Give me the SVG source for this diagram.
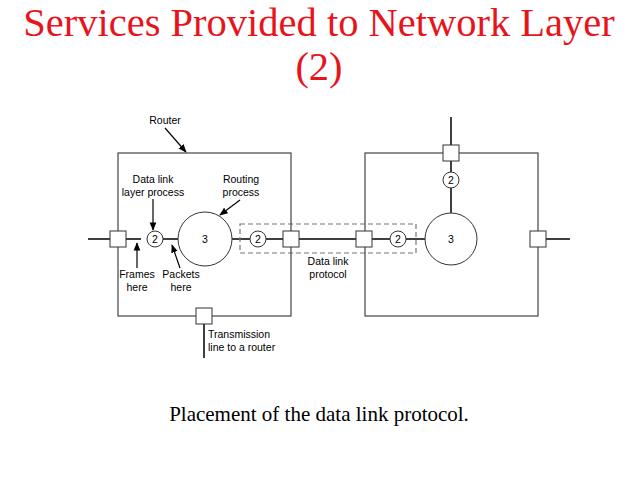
<svg xmlns="http://www.w3.org/2000/svg" width="638" height="478" viewBox="0 0 638 478">
<style>
.t{font-family:"Liberation Serif",serif}
.s{font-family:"Liberation Sans",Arial,sans-serif;font-size:10.5px;fill:#000;text-anchor:middle}
.st{text-anchor:start}
.b{fill:none;stroke:#444;stroke-width:1.2}
.p{fill:#fff;stroke:#333;stroke-width:1}
.l{stroke:#000;stroke-width:1.5;fill:none}
.a{stroke:#000;stroke-width:1.2;fill:none;marker-end:url(#ah)}
</style>
<defs><marker id="ah" viewBox="0 0 10 10" refX="9" refY="5" markerWidth="7" markerHeight="7" orient="auto"><path d="M0,1 L10,5 L0,9 z" fill="#000"/></marker></defs>
<rect width="638" height="478" fill="#fff"/>
<text class="t" x="319" y="36" font-size="40.5" fill="#e8141c" text-anchor="middle">Services Provided to Network Layer</text>
<text class="t" x="319" y="80" font-size="40.5" fill="#e8141c" text-anchor="middle">(2)</text>
<g id="connectors">
<line class="l" x1="88" y1="239" x2="141" y2="239"/>
<line class="l" x1="163" y1="239" x2="178" y2="239"/>
<line class="l" x1="232" y1="239" x2="250" y2="239"/>
<line class="l" x1="266" y1="239" x2="390" y2="239"/>
<line class="l" x1="406" y1="239" x2="425" y2="239"/>
<line class="l" x1="538" y1="239" x2="570" y2="239"/>
<line class="l" x1="451" y1="117" x2="451" y2="213"/>
<line class="l" x1="204" y1="316" x2="204" y2="358"/>
<rect x="240" y="224" width="176" height="29" fill="none" stroke="#777" stroke-width="1.2" stroke-dasharray="5,3"/>
<line class="a" x1="165" y1="128" x2="186" y2="152"/>
<line class="a" x1="153" y1="199" x2="153" y2="230"/>
<line class="a" x1="240" y1="200" x2="220" y2="215"/>
<line class="a" x1="137" y1="268" x2="137" y2="243"/>
<line class="a" x1="180" y1="268" x2="172" y2="245"/>
</g>
<g id="router1"><rect class="b" x="118" y="153" width="173" height="163"/></g>
<g id="router2"><rect class="b" x="365" y="153" width="173" height="163"/></g>
<g id="ports">
<rect class="p" x="110" y="231" width="16" height="16"/>
<rect class="p" x="283" y="231" width="16" height="16"/>
<rect class="p" x="356" y="231" width="16" height="16"/>
<rect class="p" x="530" y="231" width="16" height="16"/>
<rect class="p" x="443" y="145" width="16" height="16"/>
<rect class="p" x="196" y="308" width="16" height="16"/>
</g>
<g id="procs">
<circle class="p" cx="155" cy="239" r="8"/><text class="s" x="155" y="243">2</text>
<circle class="p" cx="205" cy="239" r="27"/><text class="s" x="205" y="243">3</text>
<circle class="p" cx="258" cy="239" r="8"/><text class="s" x="258" y="243">2</text>
<circle class="p" cx="398" cy="239" r="8"/><text class="s" x="398" y="243">2</text>
<circle class="p" cx="451" cy="239" r="26"/><text class="s" x="451" y="243">3</text>
<circle class="p" cx="451" cy="180" r="8"/><text class="s" x="451" y="184">2</text>
</g>
<g id="labels">
<text class="s" x="165" y="124">Router</text>
<text class="s" x="153" y="183">Data link</text><text class="s" x="153" y="196">layer process</text>
<text class="s" x="241" y="183">Routing</text><text class="s" x="241" y="196">process</text>
<text class="s" x="137" y="278">Frames</text><text class="s" x="137" y="291">here</text>
<text class="s" x="181" y="278">Packets</text><text class="s" x="181" y="291">here</text>
<text class="s" x="328" y="265">Data link</text><text class="s" x="328" y="278">protocol</text>
<text class="s st" x="208" y="338">Transmission</text><text class="s st" x="208" y="351">line to a router</text>
</g>
<text class="t" x="319" y="421" font-size="21" text-anchor="middle">Placement of the data link protocol.</text>
</svg>
